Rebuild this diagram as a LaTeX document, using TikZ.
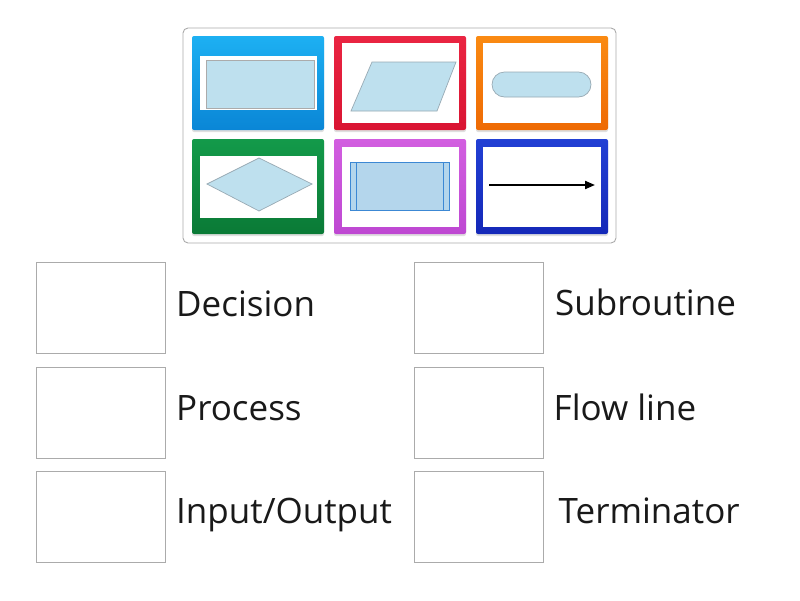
\documentclass[tikz,border=0pt]{standalone}
\usepackage{fontspec}
\setmainfont{Open Sans}
\usetikzlibrary{arrows.meta,shadows}
\definecolor{panelgray}{HTML}{AAAAAA}
\definecolor{boxgray}{HTML}{ABABAB}
\definecolor{shapefill}{HTML}{BEE0EE}
\definecolor{shapeline}{HTML}{98AAB4}
\definecolor{subfill}{HTML}{B4D6EC}
\definecolor{subline}{HTML}{3C88D4}
\definecolor{blueT}{HTML}{1DB0F2}\definecolor{blueB}{HTML}{0A86D6}
\definecolor{redT}{HTML}{EA2542}\definecolor{redB}{HTML}{D91432}
\definecolor{oranT}{HTML}{FA8A12}\definecolor{oranB}{HTML}{EE6A04}
\definecolor{greenT}{HTML}{139A4A}\definecolor{greenB}{HTML}{0A7A36}
\definecolor{purpT}{HTML}{D25EE0}\definecolor{purpB}{HTML}{BE48D2}
\definecolor{dblueT}{HTML}{2240D4}\definecolor{dblueB}{HTML}{1428B8}
\tikzset{
  tile/.style n args={2}{rectangle, rounded corners=2pt, minimum width=132pt, minimum height=94pt, inner sep=0pt,
     top color=#1, bottom color=#2, draw=none,
     drop shadow={opacity=0.25, shadow xshift=0pt, shadow yshift=-2pt}},
  hole/.style={rectangle, fill=white, draw=none, inner sep=0pt},
  answer/.style={rectangle, draw=boxgray, line width=0.8pt, minimum width=129pt, minimum height=91pt, inner sep=0pt},
  label/.style={anchor=base west, inner sep=0pt, font=\fontsize{35}{41}\selectfont, text=black!90},
  fshape/.style={fill=shapefill, draw=shapeline, line width=0.7pt}
}
\begin{document}
\begin{tikzpicture}[x=1pt,y=-1pt]
\useasboundingbox (0,0) rectangle (800,600);
% panel
\node[rectangle, rounded corners=5pt, draw=panelgray, line width=0.9pt, fill=white, minimum width=433pt, minimum height=215pt, inner sep=0pt] (panel) at (399.5,135.5) {};
% tiles
\node[tile={blueT}{blueB}] (t1) at (258,83) {};
\node[tile={redT}{redB}] (t2) at (400,83) {};
\node[tile={oranT}{oranB}] (t3) at (542,83) {};
\node[tile={greenT}{greenB}, minimum height=95pt] (t4) at (258,186.5) {};
\node[tile={purpT}{purpB}, minimum height=95pt] (t5) at (400,186.5) {};
\node[tile={dblueT}{dblueB}, minimum height=95pt] (t6) at (542,186.5) {};
% inner white areas
\node[hole, minimum width=117pt, minimum height=54pt] (h1) at (258.5,83) {};
\node[hole, minimum width=117pt, minimum height=80pt] (h2) at (400.5,83) {};
\node[hole, minimum width=118pt, minimum height=80pt] (h3) at (542,83) {};
\node[hole, minimum width=117pt, minimum height=62pt] (h4) at (258.5,187) {};
\node[hole, minimum width=117pt, minimum height=80pt] (h5) at (400.5,187) {};
\node[hole, minimum width=118pt, minimum height=80pt] (h6) at (542,187) {};
% process
\draw[fill=shapefill, draw=boxgray, line width=0.8pt] (206,60) rectangle (314,108);
% input/output
\draw[fshape] (372,62) -- (456,62) -- (437,111) -- (351,111) -- cycle;
% terminator
\draw[fshape, rounded corners=12.5pt] (492,72) rectangle (591,97);
% decision
\draw[fshape] (207,184) -- (259,158) -- (312,184) -- (259,211) -- cycle;
% subroutine
\draw[fill=subfill, draw=subline, line width=0.8pt] (350,162) rectangle (449,210);
\draw[draw=subline, line width=0.8pt] (356,162) -- (356,210) (443,162) -- (443,210);
% flow line
\coordinate (fa) at (489,185);
\coordinate (fb) at (595,185);
\draw[line width=2pt, -{Triangle[length=10pt,width=8pt]}] (fa) -- (fb);
% answer boxes
\node[answer] (b1) at (100.5,307.5) {};
\node[answer] (b2) at (100.5,412.5) {};
\node[answer] (b3) at (100.5,516.5) {};
\node[answer] (b4) at (479,307.5) {};
\node[answer] (b5) at (479,412.5) {};
\node[answer] (b6) at (479,516.5) {};
% labels
\node[label] (l1) at (176,316.7) {Decision};
\node[label] (l2) at (176,420) {Process};
\node[label] (l3) at (176,523.5) {Input/Output};
\node[label] (l4) at (555,315.7) {Subroutine};
\node[label] (l5) at (553.5,420) {Flow line};
\node[label] (l6) at (558.5,523) {Terminator};
\end{tikzpicture}
\end{document}
